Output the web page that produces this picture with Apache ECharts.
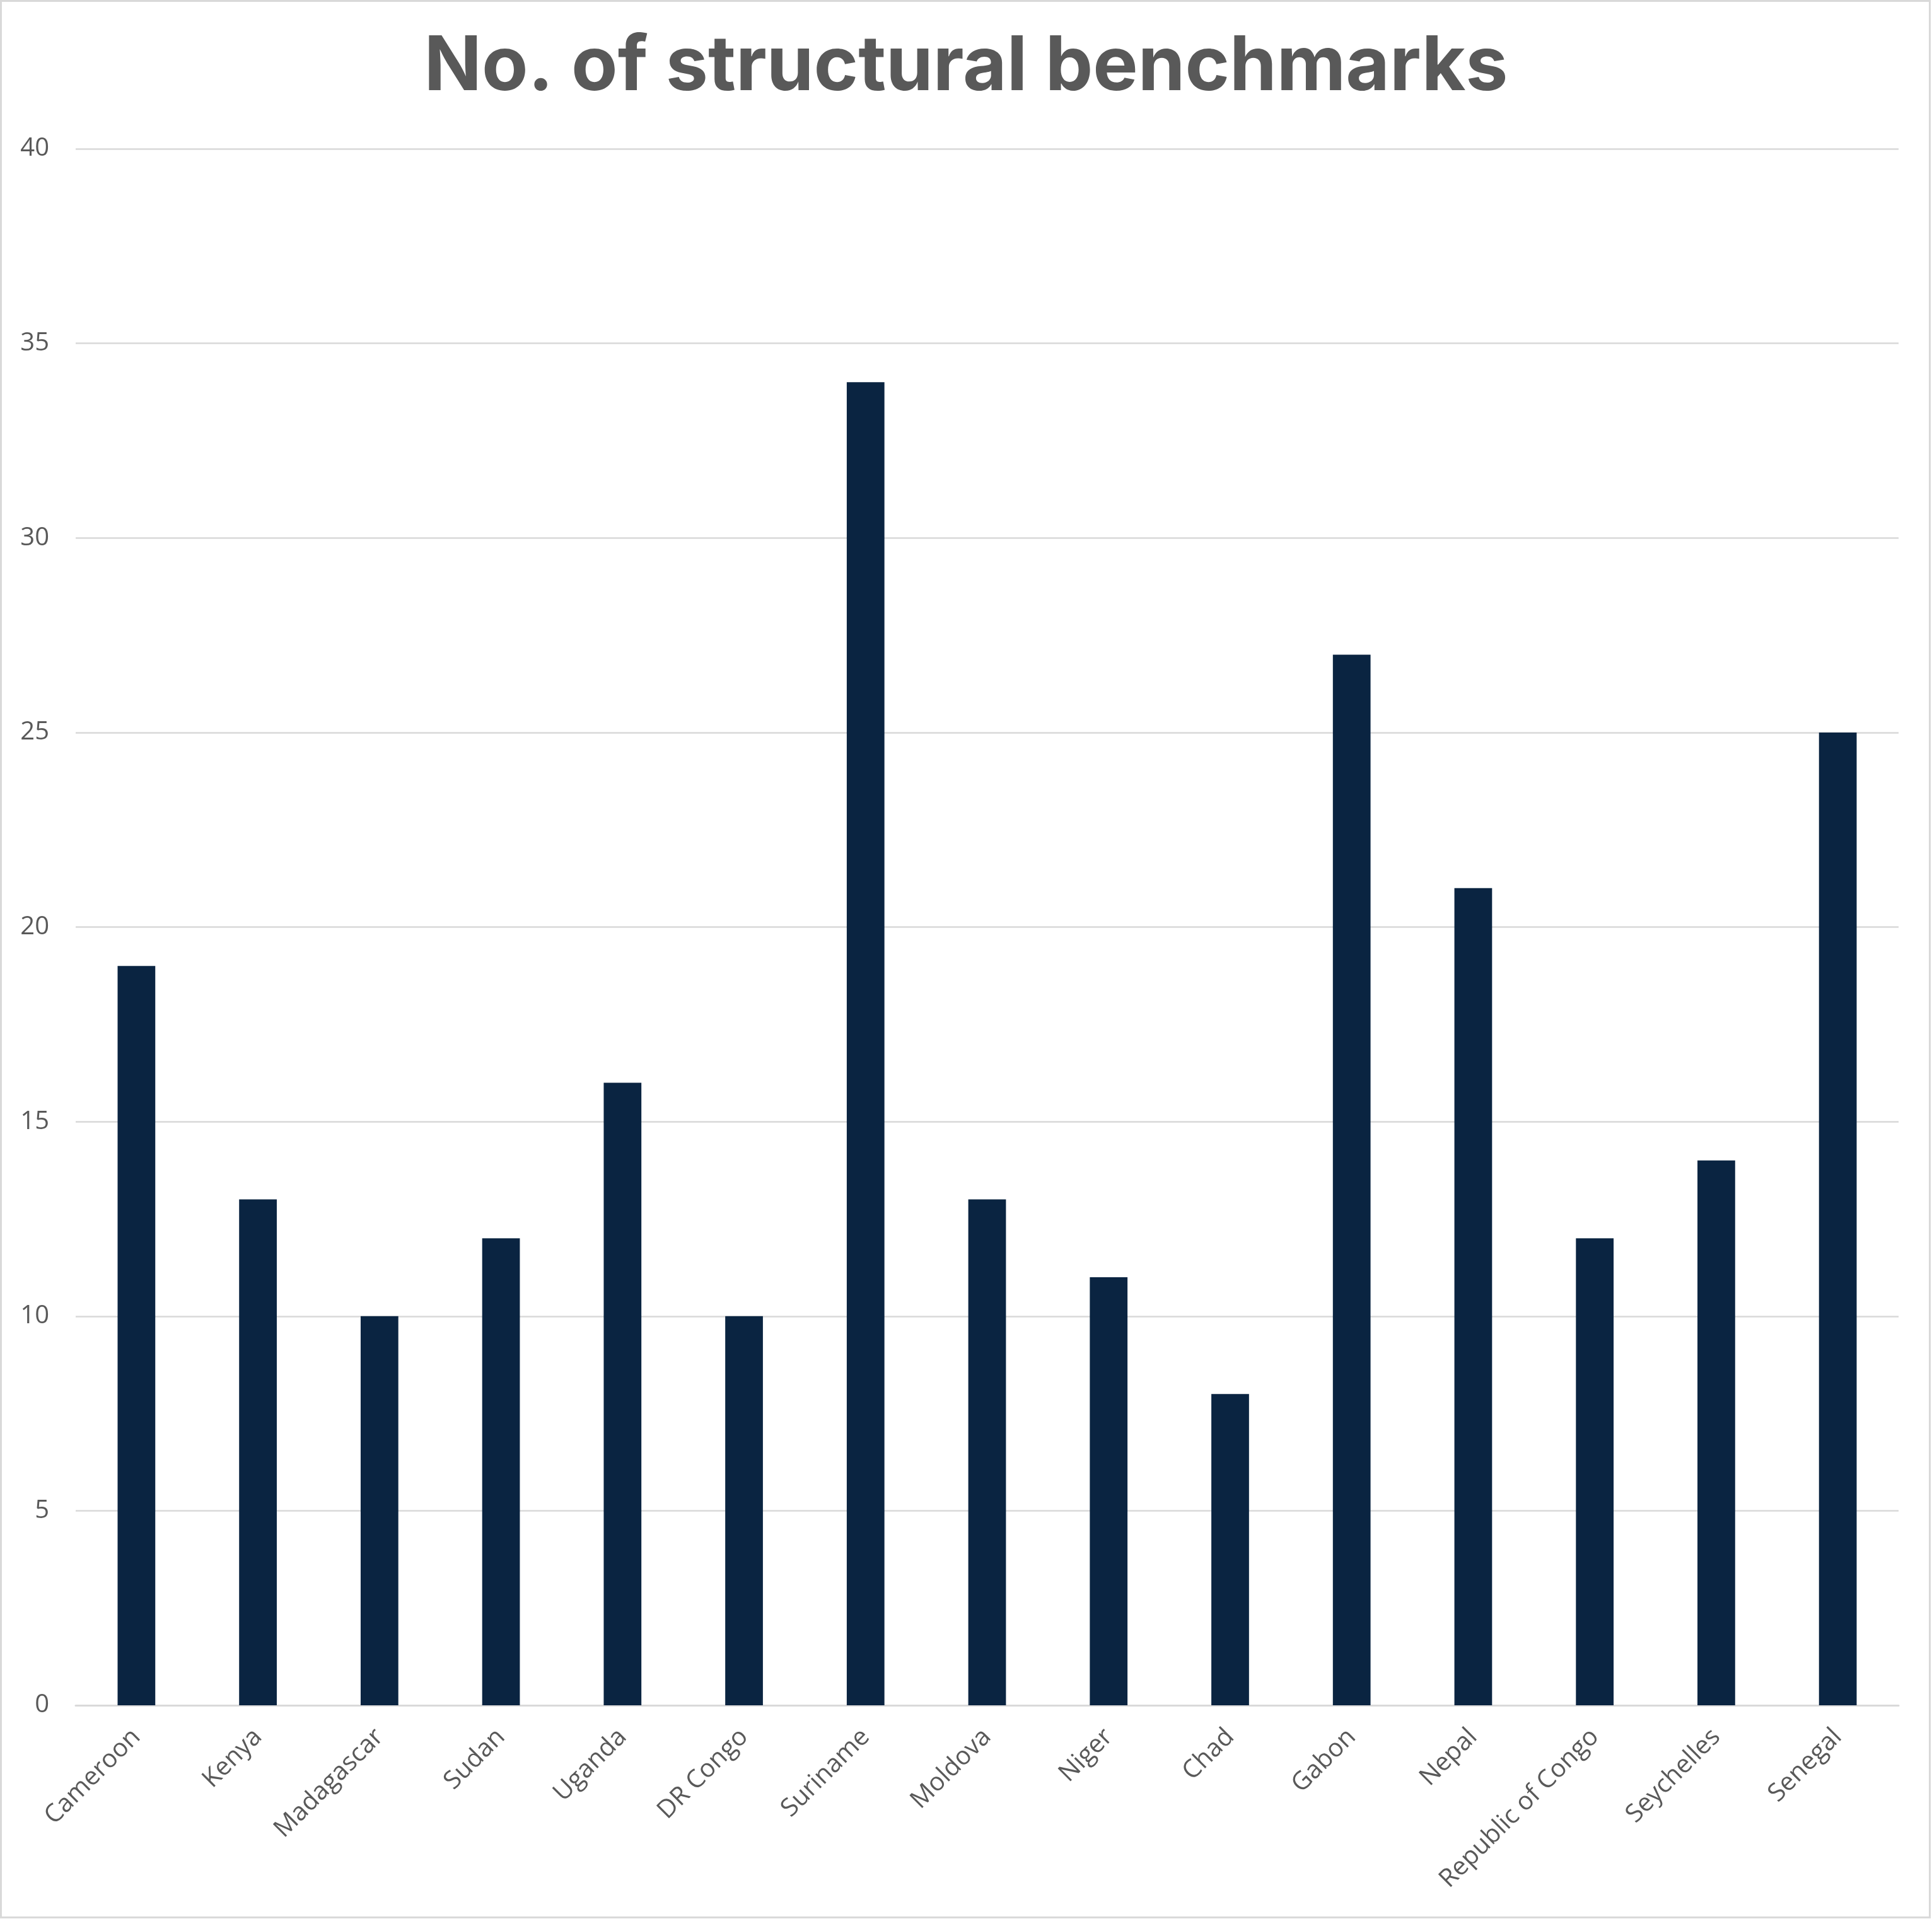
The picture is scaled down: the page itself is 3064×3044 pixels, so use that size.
<!DOCTYPE html>
<html><head><meta charset="utf-8">
<script src="https://cdn.jsdelivr.net/npm/echarts@6/dist/echarts.min.js"></script>
<style>html,body{margin:0;padding:0;background:#fff;}#c{width:3064px;height:3044px;}</style>
</head><body><div id="c"></div>
<script>
const categories = ["Cameroon","Kenya","Madagascar","Sudan","Uganda","DR Congo","Suriname","Moldova","Niger","Chad","Gabon","Nepal","Republic of Congo","Seychelles","Senegal"];
const benchmarks = [19,13,10,12,16,10,34,13,11,8,27,21,12,14,25];
const yTicks = [0,5,10,15,20,25,30,35,40];

const chart = echarts.init(document.getElementById('c'), null, {renderer:'canvas'});
chart.setOption({
  animation:false,
  backgroundColor:'#ffffff',
  title:{text:'No. of structural benchmarks',left:'center',top:42,
    textStyle:{fontFamily:'Inter',fontWeight:'bold',fontSize:120,color:'#595959'}},
  graphic:[{type:'rect',shape:{x:1.5,y:1.5,width:3059,height:3040},
    style:{fill:'none',stroke:'#d9d9d9',lineWidth:3},silent:true}],
  grid:{left:120,right:53,top:236,bottom:339,containLabel:false},
  xAxis:{type:'category',data:categories,
    axisLine:{show:true,lineStyle:{color:'#d9d9d9',width:3}},
    axisTick:{show:false},
    axisLabel:{rotate:45,interval:0,margin:44,fontFamily:'Open Sans',fontSize:40,color:'#595959'}},
  yAxis:{type:'value',min:yTicks[0],max:yTicks[yTicks.length-1],interval:5,
    axisLine:{show:false},axisTick:{show:false},
    splitLine:{lineStyle:{color:'#d9d9d9',width:2.5}},
    axisLabel:{margin:42,fontFamily:'Open Sans',fontSize:40,color:'#595959'}},
  series:[{type:'bar',data:benchmarks,barWidth:'31%',itemStyle:{color:'#0a2441'}}]
});
</script></body></html>
